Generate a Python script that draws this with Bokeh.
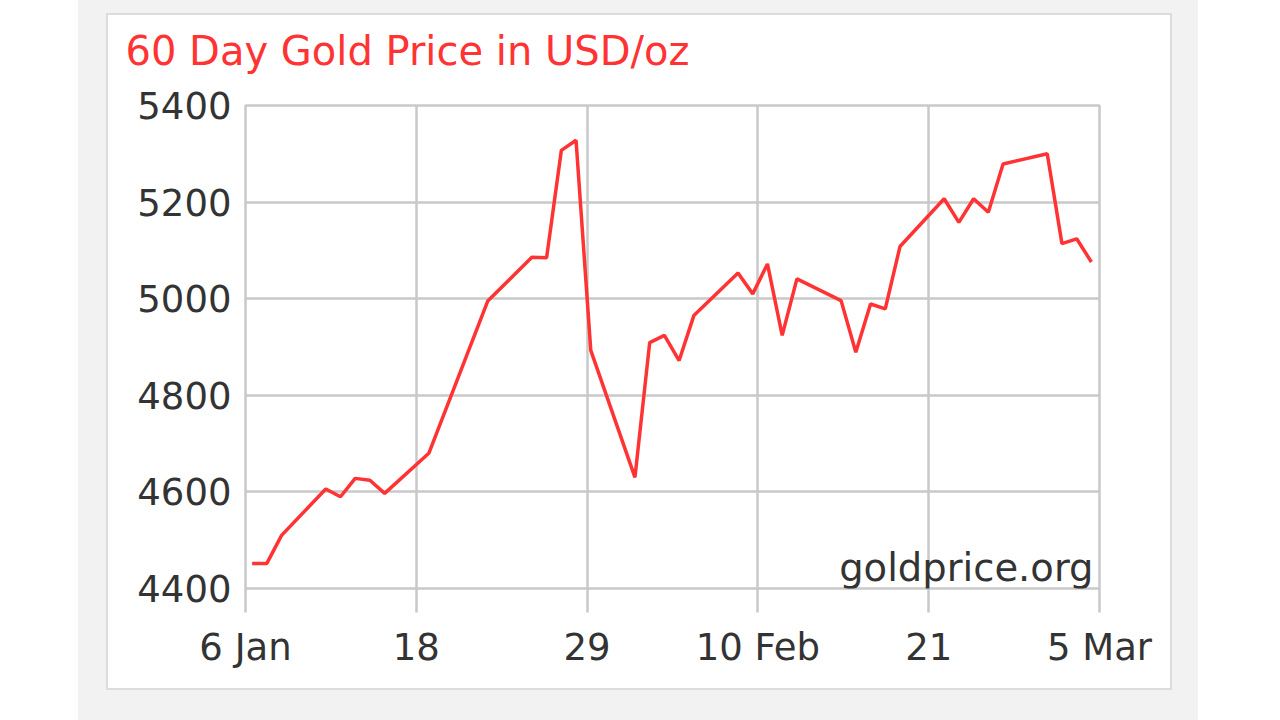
from bokeh.plotting import figure
from bokeh.models import Range1d, FixedTicker, Label, Column
from bokeh.embed import file_html
from bokeh.resources import INLINE

# ---- data ----
# day offsets counted from 6 Jan
days = [0, 1, 2, 5, 6, 7, 8, 9, 12, 16, 19, 20, 21, 22, 23, 26, 27, 28, 29, 30,
        33, 34, 35, 36, 37, 40, 41, 42, 43, 44, 47, 48, 49, 50, 51, 54, 55, 56, 57]
prices = [4452, 4452, 4510, 4606, 4590, 4628, 4624, 4597, 4680, 4995,
          5086, 5085, 5307, 5328, 4893, 4630, 4909, 4924, 4872, 4965,
          5053, 5010, 5072, 4924, 5041, 4996, 4889, 4989, 4979, 5108,
          5207, 5158, 5207, 5179, 5279, 5300, 5114, 5124, 5076]

x_tick_labels = ["6 Jan", "18", "29", "10 Feb", "21", "5 Mar"]
y_ticks = [4400, 4600, 4800, 5000, 5200, 5400]
title_text = "60 Day Gold Price in USD/oz"
credit_text = "goldprice.org"

RED = "#ff3333"
GRID = "#c9c9c9"
TXT = "#333333"
FONT = "DejaVu Sans"

X0, X1 = -0.45, 57.55
PW = 1062          # panel width
TH = 70            # title strip height

# ---- title strip (its own small figure, text placed in pixel-like data units) ----
tfig = figure(width=PW, height=TH, output_backend="svg", toolbar_location=None,
              x_range=Range1d(0, PW), y_range=Range1d(TH, 0),
              x_axis_type=None, y_axis_type=None,
              min_border=0, border_fill_color="white",
              background_fill_color="white", outline_line_color=None)
if "frame_align" in tfig.properties():
    tfig.frame_align = False
tfig.xgrid.visible = False
tfig.ygrid.visible = False
tfig.add_layout(Label(x=17, y=35, text=title_text, text_align="left",
                      text_baseline="alphabetic", text_font=FONT,
                      text_font_size="40px", text_color=RED))

# ---- main chart ----
p = figure(width=PW, height=603, output_backend="svg", toolbar_location=None,
           x_range=Range1d(X0, X1), y_range=Range1d(4400, 5400),
           min_border_left=137, min_border_right=71,
           min_border_top=20, min_border_bottom=100,
           border_fill_color="white", background_fill_color="white")
if "frame_align" in p.properties():
    p.frame_align = False

span = (X1 - X0) / (len(x_tick_labels) - 1)
x_ticks = [X0 + i * span for i in range(len(x_tick_labels))]
p.xaxis.ticker = FixedTicker(ticks=x_ticks)
p.xaxis.major_label_overrides = {t: lab for t, lab in zip(x_ticks, x_tick_labels)}
p.yaxis.ticker = FixedTicker(ticks=y_ticks)

for ax in (p.xaxis, p.yaxis):
    ax.axis_line_color = None
    ax.minor_tick_line_color = None
    ax.major_label_text_font = FONT
    ax.major_label_text_font_size = "37px"
    ax.major_label_text_color = TXT

p.xaxis.major_tick_line_color = GRID
p.xaxis.major_tick_line_width = 2.5
p.xaxis.major_tick_out = 24
p.xaxis.major_tick_in = 0
p.xaxis.major_label_standoff = 13

p.yaxis.major_tick_line_color = None
p.yaxis.major_label_standoff = 8

p.xgrid.ticker = FixedTicker(ticks=x_ticks)
p.ygrid.ticker = FixedTicker(ticks=y_ticks)
for g in (p.xgrid, p.ygrid):
    g.grid_line_color = GRID
    g.grid_line_width = 2.5

p.outline_line_color = GRID
p.outline_line_width = 2.5

p.line(days, prices, line_color=RED, line_width=3.5)

p.add_layout(Label(x=X1, y=4400, x_offset=-6, y_offset=21, text=credit_text,
                   text_align="right", text_baseline="alphabetic",
                   text_font=FONT, text_font_size="38.5px", text_color=TXT))

panel = Column(children=[tfig, p],
               styles={"background-color": "white",
                       "box-shadow": "0 0 0 2px #dcdcdc"})

lay = Column(children=[panel],
             styles={"background-color": "#f2f2f2",
                     "padding": "15px 28px 32px 30px",
                     "margin-left": "78px"})

open("out.html", "w").write(file_html(lay, INLINE))
